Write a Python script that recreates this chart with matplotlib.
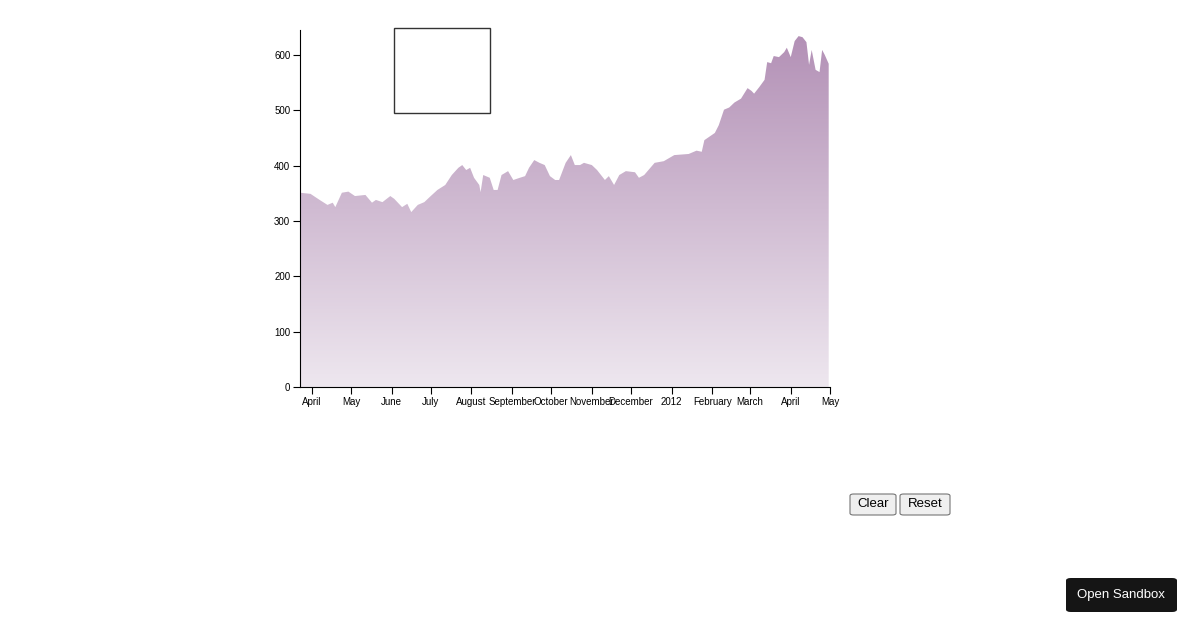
import datetime as dt

import numpy as np
import matplotlib
matplotlib.use("Agg")
import matplotlib.pyplot as plt
import matplotlib.dates as mdates
from matplotlib.patches import Rectangle, FancyBboxPatch

plt.rcParams["font.family"] = ["Liberation Sans", "DejaVu Sans"]

START = dt.date(2011, 3, 23)
# days after START, and closing price
DAYS = [0, 8, 15, 21, 25, 27, 32, 37, 42, 50, 55, 58, 63, 69, 72, 78, 82, 85, 90, 95,
        99, 105, 111, 116, 121, 124, 127, 130, 133, 137, 138, 140, 145, 148, 151, 154,
        159, 163, 168, 172, 175, 179, 183, 187, 191, 195, 198, 203, 207, 210, 214, 217,
        223, 227, 233, 236, 240, 244, 249, 256, 259, 263, 271, 278, 286, 297, 303, 307,
        309, 317, 320, 324, 328, 332, 337, 342, 345, 347, 351, 355, 357, 360, 362, 366,
        370, 372, 375, 378, 381, 384, 387, 389, 391, 394, 397, 399, 401, 404]
PRICE = [351, 349, 338, 329, 333, 325, 351, 353, 345, 347, 333, 338, 334, 345, 340, 325,
         331, 316, 329, 334, 343, 356, 365, 383, 396, 401, 392, 396, 378, 365, 352, 383,
         378, 356, 356, 383, 390, 374, 378, 381, 396, 410, 405, 401, 381, 374, 374, 405,
         419, 401, 401, 405, 401, 392, 374, 381, 365, 383, 390, 388, 378, 383, 405, 408,
         419, 421, 427, 425, 446, 459, 473, 501, 505, 514, 521, 540, 535, 530, 542, 555,
         587, 585, 598, 596, 605, 613, 596, 625, 634, 632, 623, 582, 609, 573, 569, 609,
         600, 584]
MONTH_LABELS = ["April", "May", "June", "July", "August", "September", "October",
                "November", "December", "2012", "February", "March", "April", "May"]

dates = [START + dt.timedelta(days=d) for d in DAYS]
x = mdates.date2num(dates)
y = np.array(PRICE, dtype=float)

fig = plt.figure(figsize=(12, 6.3), dpi=100)
ax = fig.add_axes([0.25, 1 - 387 / 630, 530 / 1200, 357 / 630])
ymax = 645
ax.set_xlim(x[0], x[-1])
ax.set_ylim(0, ymax)

# vertical gradient fill clipped by the area
poly = ax.fill_between(x, 0, y, color="none", lw=0)
grad = np.linspace(0, 1, 256).reshape(-1, 1)
cmap = matplotlib.colors.LinearSegmentedColormap.from_list(
    "g", ["#eee7ef", "#b28fb5"])
im = ax.imshow(grad, cmap=cmap, aspect="auto", origin="lower",
               extent=[x[0], x[-1], 0, ymax], zorder=1)
path = poly.get_paths()[0]
im.set_clip_path(path, transform=ax.transData)

ticks = [mdates.date2num(dt.date(2011 + (3 + i) // 12, (3 + i) % 12 + 1, 1))
         for i in range(len(MONTH_LABELS))]
ax.set_xticks(ticks)
ax.set_xticklabels(MONTH_LABELS)
ax.set_yticks(range(0, 601, 100))
ax.tick_params(labelsize=7, length=5, width=0.8, pad=2)
for s in ["top", "right"]:
    ax.spines[s].set_visible(False)

# brush box
fig.patches.append(Rectangle((394 / 1200, 1 - 113 / 630), 96 / 1200, 85 / 630,
                             transform=fig.transFigure, fill=False,
                             edgecolor="#333333", lw=1))

# buttons
for label, x0, w in [("Clear", 850, 46), ("Reset", 900, 50)]:
    fig.patches.append(FancyBboxPatch((x0 / 1200, 1 - 515 / 630), w / 1200, 21 / 630,
                                      boxstyle="round,pad=0,rounding_size=0.003",
                                      transform=fig.transFigure, facecolor="#efefef",
                                      edgecolor="#767676", lw=0.8))
    fig.text((x0 + w / 2) / 1200, 1 - 504 / 630, label, ha="center", va="center",
             fontsize=9.5)
fig.patches.append(FancyBboxPatch((1066 / 1200, 1 - 612 / 630), 111 / 1200, 34 / 630,
                                  boxstyle="round,pad=0,rounding_size=0.004",
                                  transform=fig.transFigure, facecolor="#151515",
                                  edgecolor="none"))
fig.text(1121 / 1200, 1 - 595 / 630, "Open Sandbox", ha="center", va="center",
         fontsize=9.5, color="white")

fig.savefig("out.png", dpi=100)
